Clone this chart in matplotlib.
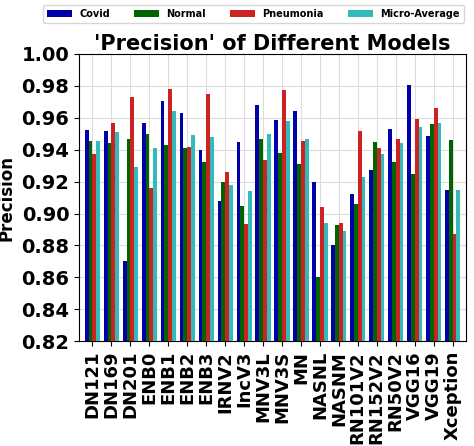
import matplotlib.pyplot as plt
import numpy as np

models = ["DN121", "DN169", "DN201", "ENB0", "ENB1", "ENB2", "ENB3", "IRNV2", "IncV3",
          "MNV3L", "MNV3S", "MN", "NASNL", "NASNM", "RN101V2", "RN152V2", "RN50V2",
          "VGG16", "VGG19", "Xception"]
covid = [0.9525, 0.952, 0.870, 0.957, 0.9706, 0.963, 0.940, 0.908, 0.945, 0.968,
         0.9585, 0.964, 0.920, 0.880, 0.912, 0.9275, 0.953, 0.9806, 0.9485, 0.9146]
normal = [0.9456, 0.944, 0.947, 0.950, 0.9427, 0.941, 0.932, 0.920, 0.905, 0.947,
          0.938, 0.931, 0.860, 0.893, 0.906, 0.9446, 0.932, 0.925, 0.956, 0.946]
pneumonia = [0.9375, 0.957, 0.973, 0.916, 0.978, 0.942, 0.975, 0.926, 0.8935, 0.9335,
             0.9777, 0.9456, 0.904, 0.894, 0.9517, 0.941, 0.947, 0.959, 0.966, 0.887]
micro = [0.9452, 0.951, 0.929, 0.941, 0.964, 0.949, 0.948, 0.918, 0.914, 0.950,
         0.958, 0.947, 0.894, 0.889, 0.923, 0.937, 0.944, 0.954, 0.9567, 0.9146]

series = [("Covid", covid, "#0000a8"), ("Normal", normal, "#006400"),
          ("Pneumonia", pneumonia, "#cc2222"), ("Micro-Average", micro, "#33bbbb")]

fig = plt.figure(figsize=(4.74, 4.46), dpi=100)
ax = fig.add_axes([0.167, 0.235, 0.816, 0.644])
x = np.arange(len(models))
w = 0.2
for i, (name, vals, col) in enumerate(series):
    ax.bar(x + (i - 1.5) * w, vals, width=w, color=col, label=name, zorder=3)

ticks = np.arange(0.82, 1.001, 0.02)
ax.set_ylim(0.82, 1.0)
ax.set_yticks(ticks)
ax.set_yticklabels([f"{v:.2f}" for v in ticks], fontsize=14, fontweight="bold")
ax.set_xticks(x)
ax.set_xticklabels(models, rotation=90, fontsize=13, fontweight="bold")
ax.set_xlim(-0.7, len(models) - 0.3)
ax.set_ylabel("Precision", fontsize=12, fontweight="bold")
ax.set_title("'Precision' of Different Models", fontsize=15, fontweight="bold", pad=3)
ax.grid(True, color="#dddddd", linewidth=0.8, zorder=0)
fig.legend(loc="upper center", bbox_to_anchor=(0.535, 1.0), ncol=4,
           prop={"size": 7, "weight": "bold"}, frameon=True, edgecolor="#cccccc",
           handlelength=2.5, columnspacing=2.5)
fig.savefig("out.png", dpi=100)
